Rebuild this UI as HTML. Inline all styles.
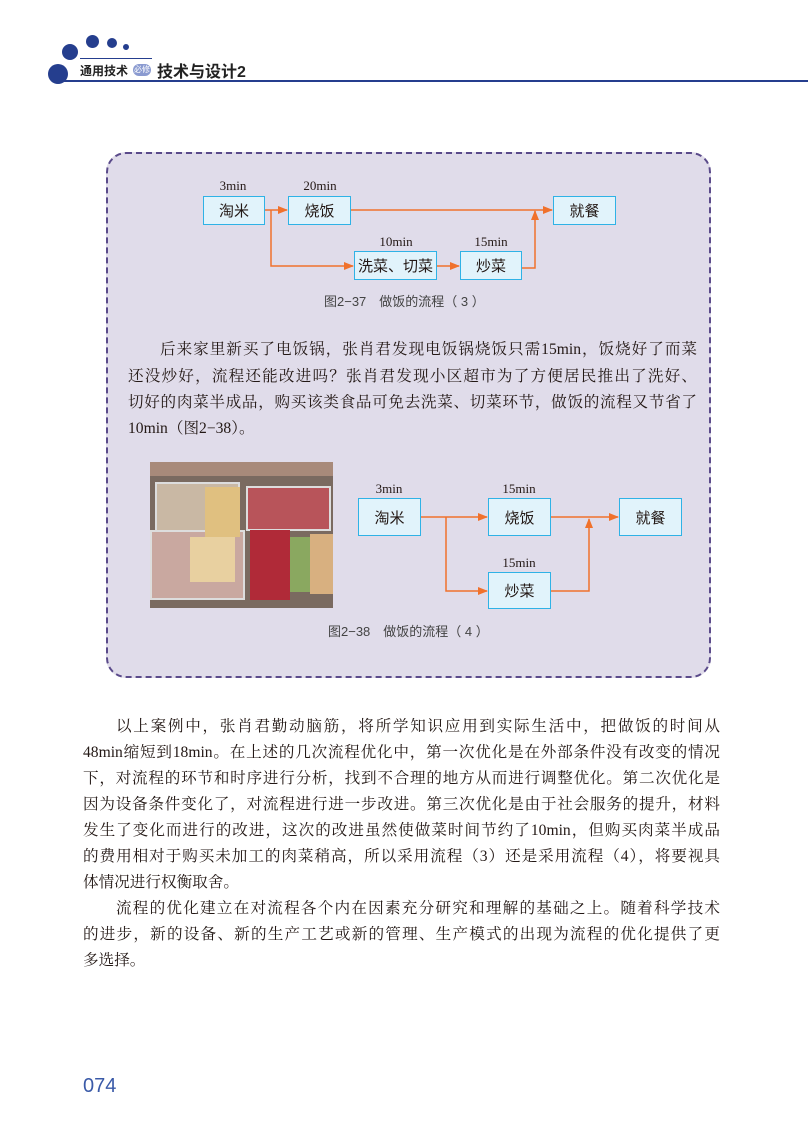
<!DOCTYPE html>
<html><head><meta charset="utf-8"><style>
*{margin:0;padding:0;box-sizing:border-box}
body{width:808px;height:1137px;background:#fff;position:relative;overflow:hidden;font-family:"Liberation Serif","Noto Serif CJK SC",serif;color:#231815}
.abs{position:absolute}
.c{position:absolute;border-radius:50%;background:#253e8e}
.ln{position:absolute;font-size:15.6px;white-space:nowrap;text-align:justify;text-align-last:justify;line-height:26px}
.bx{position:absolute;background:#e1f3fb;border:1.5px solid #2fb2e6;font-family:"Liberation Sans","Noto Sans CJK SC",sans-serif;font-size:15px;display:flex;align-items:center;justify-content:center;color:#231815}
.lb{position:absolute;font-size:13px;width:80px;text-align:center}
.cap{position:absolute;font-family:"Liberation Sans","Noto Sans CJK SC",sans-serif;font-size:13px;color:#444}
</style></head><body>
<div class="c" style="left:48px;top:64px;width:20px;height:20px"></div>
<div class="c" style="left:62px;top:44px;width:16px;height:16px"></div>
<div class="c" style="left:86px;top:35px;width:13px;height:13px"></div>
<div class="c" style="left:107px;top:38px;width:10px;height:10px"></div>
<div class="c" style="left:123px;top:44px;width:6px;height:6px"></div>
<div class="abs" style="left:80px;top:58px;width:72px;height:1px;background:#253e8e"></div>
<div class="abs" style="left:64px;top:80px;width:744px;height:1.5px;background:#253e8e"></div>
<div class="abs" style="left:80px;top:62px;font-family:'Liberation Sans','Noto Sans CJK SC',sans-serif;font-size:12px;font-weight:bold;color:#222">通用技术</div>
<div class="abs" style="left:133px;top:64px;width:18px;height:12px;border-radius:6px;background:#8a9ad0;font-size:8px;color:#fff;text-align:center;line-height:12px;font-family:'Noto Sans CJK SC',sans-serif">必修</div>
<div class="abs" style="left:157px;top:58px;font-family:'Liberation Sans','Noto Sans CJK SC',sans-serif;font-size:16px;font-weight:bold;color:#222">技术与设计2</div>

<div class="abs" style="left:106px;top:152px;width:605px;height:526px;background:#e0dcea;border:2px dashed #5a4a8a;border-radius:20px"></div>

<svg class="abs" style="left:0;top:0" width="808" height="700">
<defs><marker id="a" markerWidth="10" markerHeight="8" refX="9" refY="4" orient="auto" markerUnits="userSpaceOnUse"><path d="M0,0 L10,4 L0,8 z" fill="#f0712c"/></marker></defs>
<g stroke="#f0712c" stroke-width="1.5" fill="none">
<path d="M264,210 H287" marker-end="url(#a)"/>
<path d="M271,210 V266 H353" marker-end="url(#a)"/>
<path d="M351,210 H552" marker-end="url(#a)"/>
<path d="M437,266 H459" marker-end="url(#a)"/>
<path d="M522,268 H535 V211" marker-end="url(#a)"/>
<path d="M420,517 H487" marker-end="url(#a)"/>
<path d="M446,517 V591 H487" marker-end="url(#a)"/>
<path d="M551,517 H618" marker-end="url(#a)"/>
<path d="M551,591 H589 V519" marker-end="url(#a)"/>
</g></svg>
<div class="lb" style="left:193px;top:178px">3min</div>
<div class="lb" style="left:280px;top:178px">20min</div>
<div class="lb" style="left:356px;top:234px">10min</div>
<div class="lb" style="left:451px;top:234px">15min</div>
<div class="bx" style="left:203px;top:196px;width:62px;height:29px">淘米</div>
<div class="bx" style="left:288px;top:196px;width:63px;height:29px">烧饭</div>
<div class="bx" style="left:553px;top:196px;width:63px;height:29px">就餐</div>
<div class="bx" style="left:354px;top:251px;width:83px;height:29px">洗菜、切菜</div>
<div class="bx" style="left:460px;top:251px;width:62px;height:29px">炒菜</div>
<div class="cap" style="left:324px;top:291px">图2−37　做饭的流程（ 3 ）</div>

<div class="ln" style="left:160px;top:337px;width:537px">后来家里新买了电饭锅，张肖君发现电饭锅烧饭只需15min，饭烧好了而菜</div>
<div class="ln" style="left:128px;top:364px;width:569px">还没炒好，流程还能改进吗？张肖君发现小区超市为了方便居民推出了洗好、</div>
<div class="ln" style="left:128px;top:390px;width:569px">切好的肉菜半成品，购买该类食品可免去洗菜、切菜环节，做饭的流程又节省了</div>
<div class="ln" style="left:128px;top:416px;text-align-last:auto">10min（图2−38）。</div>

<div class="abs" style="left:150px;top:462px;width:183px;height:146px;background:#7a6a60;overflow:hidden">
<div class="abs" style="left:5px;top:20px;width:85px;height:55px;background:#c9b8a4;border:2px solid #ddd"></div>
<div class="abs" style="left:96px;top:24px;width:85px;height:45px;background:#b8545a;border:2px solid #ddd"></div>
<div class="abs" style="left:0;top:68px;width:95px;height:70px;background:#c9a8a0;border:2px solid #ddd"></div>
<div class="abs" style="left:100px;top:68px;width:40px;height:70px;background:#b02a38"></div>
<div class="abs" style="left:140px;top:75px;width:20px;height:55px;background:#8aa860"></div>
<div class="abs" style="left:160px;top:72px;width:23px;height:60px;background:#d8b080"></div>
<div class="abs" style="left:55px;top:25px;width:35px;height:50px;background:#e0c080"></div>
<div class="abs" style="left:40px;top:75px;width:45px;height:45px;background:#e8d0a0"></div>
<div class="abs" style="left:0;top:0;width:183px;height:14px;background:#a88a7a"></div>
</div>
<div class="lb" style="left:349px;top:481px">3min</div>
<div class="lb" style="left:479px;top:481px">15min</div>
<div class="lb" style="left:479px;top:555px">15min</div>
<div class="bx" style="left:358px;top:498px;width:63px;height:38px">淘米</div>
<div class="bx" style="left:488px;top:498px;width:63px;height:38px">烧饭</div>
<div class="bx" style="left:619px;top:498px;width:63px;height:38px">就餐</div>
<div class="bx" style="left:488px;top:572px;width:63px;height:37px">炒菜</div>
<div class="cap" style="left:328px;top:621px">图2−38　做饭的流程（ 4 ）</div>

<div class="ln" style="left:116px;top:714px;width:604px">以上案例中，张肖君勤动脑筋，将所学知识应用到实际生活中，把做饭的时间从</div>
<div class="ln" style="left:83px;top:740px;width:637px">48min缩短到18min。在上述的几次流程优化中，第一次优化是在外部条件没有改变的情况</div>
<div class="ln" style="left:83px;top:766px;width:637px">下，对流程的环节和时序进行分析，找到不合理的地方从而进行调整优化。第二次优化是</div>
<div class="ln" style="left:83px;top:792px;width:637px">因为设备条件变化了，对流程进行进一步改进。第三次优化是由于社会服务的提升，材料</div>
<div class="ln" style="left:83px;top:818px;width:637px">发生了变化而进行的改进，这次的改进虽然使做菜时间节约了10min，但购买肉菜半成品</div>
<div class="ln" style="left:83px;top:844px;width:637px">的费用相对于购买未加工的肉菜稍高，所以采用流程（3）还是采用流程（4），将要视具</div>
<div class="ln" style="left:83px;top:870px;text-align-last:auto">体情况进行权衡取舍。</div>
<div class="ln" style="left:116px;top:896px;width:604px">流程的优化建立在对流程各个内在因素充分研究和理解的基础之上。随着科学技术</div>
<div class="ln" style="left:83px;top:922px;width:637px">的进步，新的设备、新的生产工艺或新的管理、生产模式的出现为流程的优化提供了更</div>
<div class="ln" style="left:83px;top:948px;text-align-last:auto">多选择。</div>

<div class="abs" style="left:83px;top:1075px;font-family:'Liberation Sans',sans-serif;font-size:20px;color:#3a5aa8">074</div>
</body></html>
